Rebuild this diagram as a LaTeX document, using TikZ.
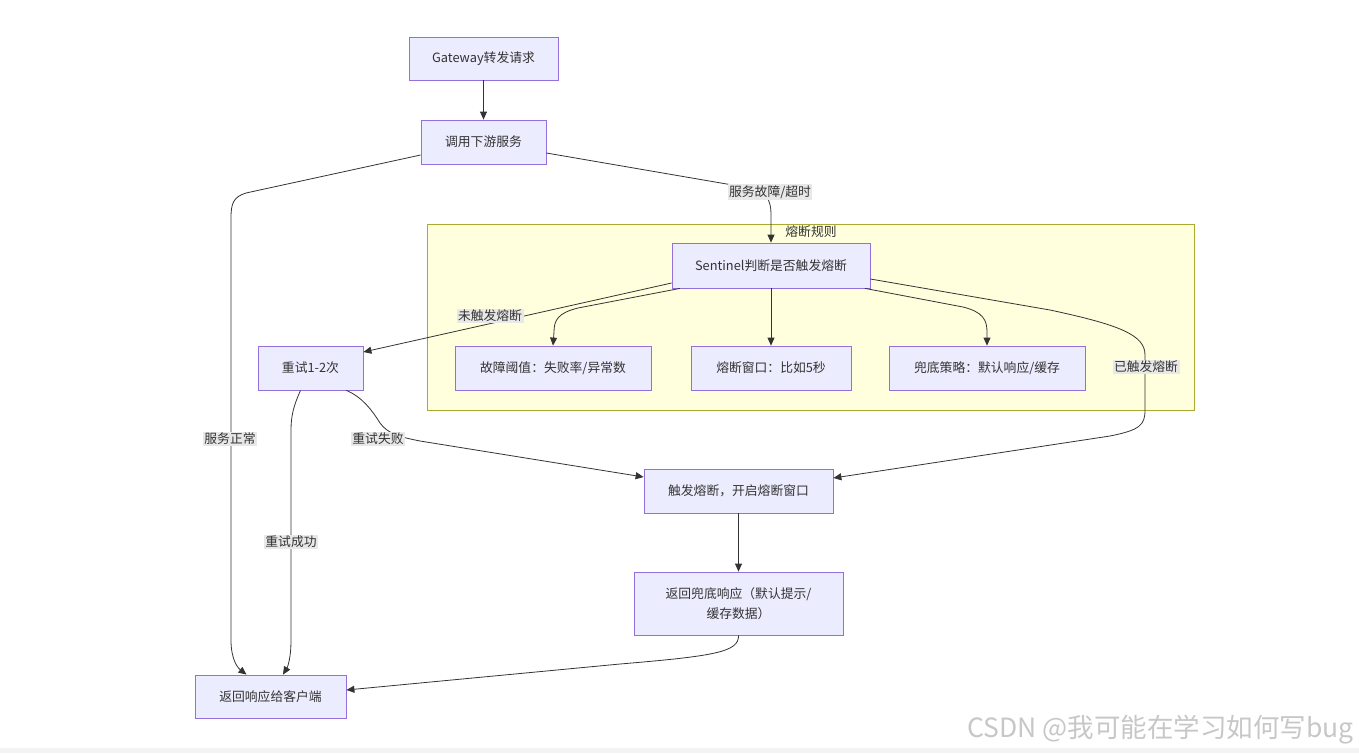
\documentclass[tikz,border=0pt]{standalone}
\usepackage{fontspec}
\setmainfont{Noto Sans CJK SC}
\usetikzlibrary{arrows.meta}
\definecolor{nodefill}{HTML}{ECECFF}
\definecolor{nodeline}{HTML}{9370DB}
\definecolor{groupfill}{HTML}{FFFFDE}
\definecolor{groupline}{HTML}{AAAA33}
\definecolor{edgegray}{HTML}{333333}
\definecolor{labelgray}{HTML}{E8E8E8}
\definecolor{textgray}{HTML}{333333}
\definecolor{stripgray}{HTML}{F2F3F5}
\tikzset{
  box/.style={draw=nodeline, fill=nodefill, line width=0.8pt, align=center,
    minimum width=#1, minimum height=44pt, inner sep=0pt, text=textgray,
    font=\fontsize{12.8}{19.5}\selectfont},
  group/.style={draw=groupline, fill=groupfill, line width=0.8pt,
    minimum width=767pt, minimum height=186pt, inner sep=0pt},
  lbl/.style={fill=labelgray, inner sep=1.5pt, text=textgray,
    font=\fontsize{12.8}{15}\selectfont},
  arrow/.style={-{Triangle[length=8pt,width=7pt]}, line width=0.8pt, draw=edgegray}
}
\begin{document}
\begin{tikzpicture}[x=1pt, y=-1pt]
  \useasboundingbox (0,0) rectangle (1359,753);
  \fill[stripgray] (0,748) rectangle (1359,753);
  % circuit breaker rules
  \node[group] (rules) at (810.5,317) {};
  \node[text=textgray, font=\fontsize{12.8}{15}\selectfont] (rulestitle) at (811,232) {熔断规则};
  % nodes
  \node[box=149pt, minimum height=43pt] (gw) at (483.5,58.5) {Gateway转发请求};
  \node[box=125pt] (call) at (483.5,142) {调用下游服务};
  \node[box=198pt, minimum height=45pt] (sent) at (771,265.5) {Sentinel判断是否触发熔断};
  \node[box=196pt] (thr) at (553,368) {故障阈值：失败率/异常数};
  \node[box=160pt] (win) at (771,368) {熔断窗口：比如5秒};
  \node[box=196pt] (fb) at (987,368) {兜底策略：默认响应/缓存};
  \node[box=105pt] (retry) at (310.5,368) {重试1-2次};
  \node[box=189pt] (trip) at (738.5,491) {触发熔断，开启熔断窗口};
  \node[box=209pt, minimum height=63pt] (fbresp) at (738.5,603.5) {返回兜底响应（默认提示/\\缓存数据）};
  \node[box=151pt, minimum height=43pt] (resp) at (270.5,696.5) {返回响应给客户端};
  % connectors
  \draw[arrow] (gw) -- (call);
  \draw[arrow] ([yshift=-11pt]call.east) -- (750,188) .. controls (766,191) and (771,200) .. (771,214) -- (sent.north);
  \draw[arrow] ([yshift=-13pt]call.west) -- (246,193) .. controls (233,197) and (231,204) .. (231,218) -- (231,640) .. controls (231,660) and (238,668) .. ([xshift=-24pt]resp.north);
  \draw[arrow] ([yshift=-17.5pt]sent.west) -- ([yshift=16pt]retry.east);
  \draw[arrow] ([xshift=-91pt]sent.south) -- (578,308) .. controls (558,313) and (554,320) .. (554,332) -- (thr.north);
  \draw[arrow] (sent) -- (win);
  \draw[arrow] ([xshift=94pt]sent.south) -- (963,307) .. controls (983,312) and (987,320) .. (987,332) -- (fb.north);
  \draw[arrow] ([yshift=-13.5pt]sent.east) -- (1050,310) .. controls (1120,325) and (1145,335) .. (1145,355) -- (1145,410) .. controls (1145,425) and (1140,430) .. (1110,436) -- ([yshift=13pt]trip.east);
  \draw[arrow] ([xshift=-17pt]retry.south east) .. controls (362,397) and (372,410) .. (380,423) .. controls (388,434) and (400,437) .. (420,441) -- ([yshift=14pt]trip.west);
  \draw[arrow] ([xshift=-10pt]retry.south) .. controls (294,405) and (291,415) .. (291,430) -- (291,640) .. controls (291,660) and (287,668) .. ([xshift=12.5pt]resp.north);
  \draw[arrow] (trip) -- (fbresp);
  \draw[arrow] (fbresp.south) .. controls (739,652) and (715,656) .. (620,664) -- ([yshift=6.5pt]resp.east);
  % edge labels
  \node[lbl] (lfail) at (770,192) {服务故障/超时};
  \node[lbl] (lok) at (230,439) {服务正常};
  \node[lbl] (lnotrip) at (490,316) {未触发熔断};
  \node[lbl] (ltrip) at (1146,367) {已触发熔断};
  \node[lbl] (lretryfail) at (378,439) {重试失败};
  \node[lbl] (lretryok) at (291,542) {重试成功};
  % watermark
  \node[text=black!22, font=\fontsize{26.5}{30}\selectfont, anchor=east] (mark) at (1357,730) {CSDN @我可能在学习如何写bug};
\end{tikzpicture}
\end{document}
